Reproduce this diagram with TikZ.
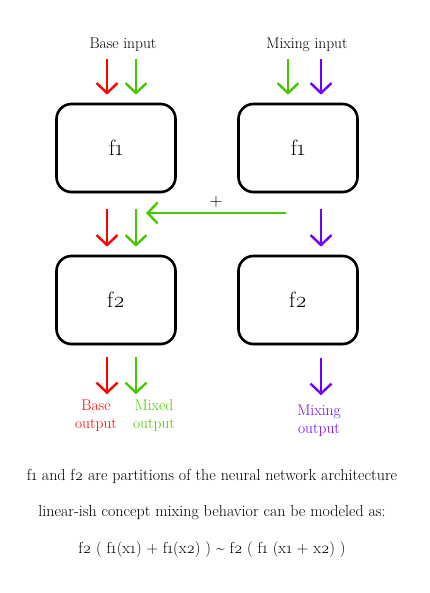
\documentclass[tikz,border=0pt]{standalone}
\usepackage{fontspec}
\setmainfont{Latin Modern Roman}[Numbers=OldStyle]
\usetikzlibrary{arrows.meta,shadows}
\definecolor{basered}{RGB}{255,0,0}
\definecolor{mixgreen}{RGB}{72,200,0}
\definecolor{mixpurple}{RGB}{112,0,255}

\begin{document}
\begin{tikzpicture}[x=1pt,y=-1pt,
  block/.style={draw, line width=2.6pt, rounded corners=15pt, minimum width=119pt, minimum height=88pt, fill=white,
    drop shadow={opacity=0.2, shadow xshift=0pt, shadow yshift=-2pt}, font=\fontsize{22}{26}\selectfont},
  flow/.style={line width=2.4pt, -{Straight Barb[length=10pt,width=21pt]}},
  lbl/.style={font=\fontsize{15.5}{18}\selectfont, align=center},
  note/.style={font=\fontsize{16}{18}\selectfont}]
\useasboundingbox (0,0) rectangle (430,593);

% the four partitions
\node[block] (b1) at (116,148) {f1};
\node[block] (m1) at (298,148) {f1};
\node[block] (b2) at (116,300) {f2};
\node[block] (m2) at (298,300) {f2};

% inputs
\node[lbl] (basein) at (123,45) {Base input};
\node[lbl] (mixin) at (307,45) {Mixing input};
\coordinate (rin) at (107,59);
\coordinate (gin) at (136,59);
\coordinate (gmin) at (288,59);
\coordinate (pin) at (321,59);
\draw[flow,basered] (rin) -- ([yshift=8pt]b1.north -| rin);
\draw[flow,mixgreen] (gin) -- ([yshift=8pt]b1.north -| gin);
\draw[flow,mixgreen] (gmin) -- ([yshift=8pt]m1.north -| gmin);
\draw[flow,mixpurple] (pin) -- ([yshift=8pt]m1.north -| pin);

% between f1 and f2
\draw[flow,basered] ([yshift=-16pt]b1.south -| rin) -- ([yshift=8pt]b2.north -| rin);
\draw[flow,mixgreen] ([yshift=-16pt]b1.south -| gin) -- ([yshift=8pt]b2.north -| gin);
\draw[flow,mixpurple] ([yshift=-16pt]m1.south -| pin) -- ([yshift=8pt]m2.north -| pin);
\coordinate (mixfrom) at (286,213);
\coordinate (mixto) at (146,213);
\draw[flow,mixgreen] (mixfrom) -- node[above=1pt, black, font=\fontsize{18}{20}\selectfont] (plus) {+} (mixto);

% outputs
\draw[flow,basered] ([yshift=-12pt]b2.south -| rin) -- ([yshift=-49pt]b2.south -| rin);
\draw[flow,mixgreen] ([yshift=-12pt]b2.south -| gin) -- ([yshift=-49pt]b2.south -| gin);
\draw[flow,mixpurple] ([yshift=-13pt]m2.south -| pin) -- ([yshift=-50pt]m2.south -| pin);
\node[lbl, text=basered] (baseout) at (96,416) {Base\\output};
\node[lbl, text=mixgreen] (mixedout) at (154,416) {Mixed\\output};
\node[lbl, text=mixpurple] (mixout) at (319,421) {Mixing\\output};

% notes
\node[note] (note1) at (212,476) {f1 and f2 are partitions of the neural network architecture};
\node[note] (note2) at (212,513) {linear-ish concept mixing behavior can be modeled as:};
\node[note] (note3) at (212,550) {f2 ( f1(x1) + f1(x2) ) \textasciitilde{} f2 ( f1 (x1 + x2) )};
\end{tikzpicture}
\end{document}
